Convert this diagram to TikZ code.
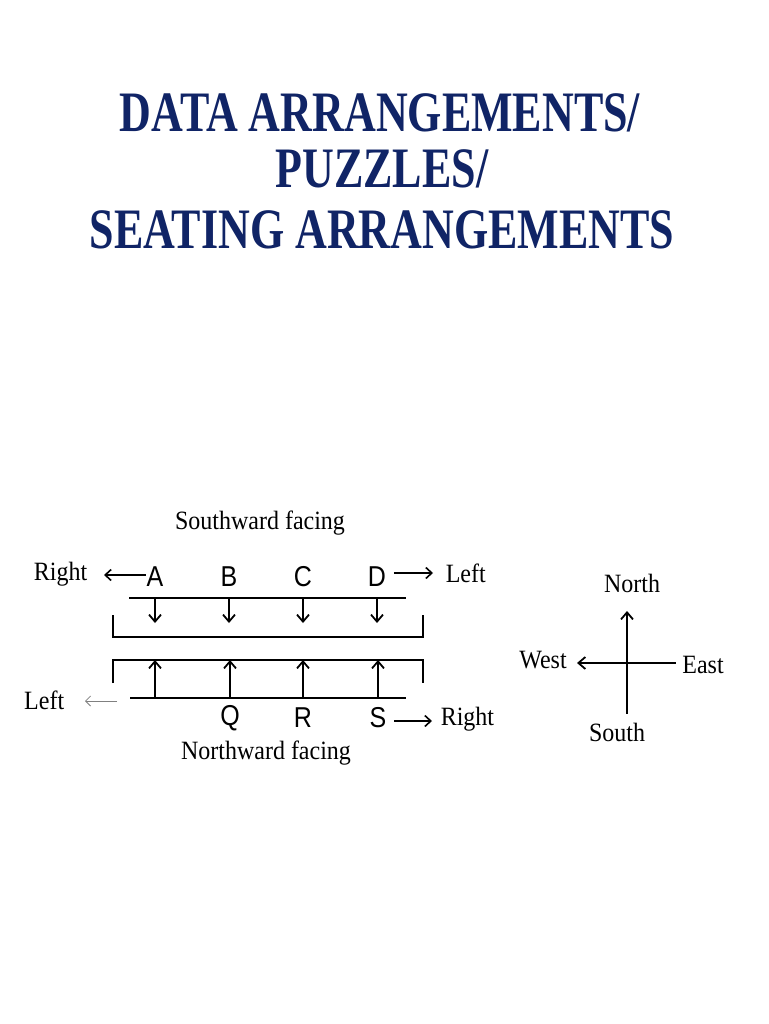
\documentclass[tikz,border=0pt]{standalone}
\usepackage{fontspec}
\setmainfont{Liberation Serif}
\newfontfamily\seatfont{Liberation Sans}
\usetikzlibrary{arrows.meta,positioning}
\definecolor{titleblue}{RGB}{16,36,102}

\begin{document}
\begin{tikzpicture}[x=1pt,y=-1pt,line width=1.6pt,
  word/.style={font=\fontsize{24}{28}\selectfont},
  seat/.style={font=\seatfont\fontsize{25}{30}\selectfont},
  heading/.style={anchor=base,text=titleblue,font=\fontsize{44}{50}\selectfont\bfseries},
  face/.style={-{Straight Barb[length=7pt,width=12pt,line width=1.8pt]}},
  side/.style={-{Straight Barb[length=6pt,width=11pt,line width=1.6pt]},line width=1.4pt}]
\tikzstyle{every node}+=[inner sep=0pt]
\useasboundingbox (0,0) rectangle (768,1024);
\fill [white] (0,0) rectangle (768,1024);
\node [heading] (t1) at (380,132) {\scalebox{1}[1.3]{DATA ARRANGEMENTS/}};
\node [heading] (t2) at (382,188) {\scalebox{1}[1.3]{PUZZLES/}};
\node [heading] (t3) at (382,248) {\scalebox{1}[1.3]{SEATING ARRANGEMENTS}};
\node [word] (sfacing) at (260,523) {\scalebox{1}[1.1]{Southward facing}};
\node [seat] (A) at (155,577) {\scalebox{1}[1.15]{A}};
\node [seat] (B) at (229,577) {\scalebox{1}[1.15]{B}};
\node [seat] (C) at (303,577) {\scalebox{1}[1.15]{C}};
\node [seat] (D) at (377,577) {\scalebox{1}[1.15]{D}};
\node [word,anchor=east] (rtop) at (88,574) {\scalebox{1}[1.1]{Right}};
\node [word,anchor=west] (ltop) at (445,573) {\scalebox{1}[1.1]{Left}};
\draw [side,shorten >=16pt] (A.west |- 0,575) -- (rtop.east |- 0,575);
\draw [side,shorten <=7pt,shorten >=12pt] (D.east |- 0,573) -- (ltop.west |- 0,573);
\coordinate (tl) at (129,598);
\coordinate (tr) at (406,598);
\draw (tl) -- (tr);
\foreach \s in {A,B,C,D}
  \draw [face] (\s |- tl) -- ++(0,25);
\draw (113,615) |- (423,637) -- (423,615);
\draw (113,683) |- (423,660) -- (423,683);
\coordinate (bl) at (130,698);
\coordinate (br) at (406,698);
\draw (bl) -- (br);
\coordinate (P) at (155,718);
\node [seat] (Q) at (230,718) {\scalebox{1}[1.15]{Q}};
\node [seat] (R) at (303,718) {\scalebox{1}[1.15]{R}};
\node [seat] (S) at (378,718) {\scalebox{1}[1.15]{S}};
\foreach \s in {P,Q,R,S}
  \draw [face] (\s |- bl) -- ++(0,-38);
\node [word,anchor=east] (lbot) at (65,700) {\scalebox{1}[1.1]{Left}};
\coordinate (lstart) at (117,701);
\draw [-{Straight Barb[length=5pt,width=10pt]},gray,line width=0.8pt,shorten >=20pt] (lstart) -- (lbot.east |- lstart);
\node [word,anchor=west] (rbot) at (440,719) {\scalebox{1}[1.1]{Right}};
\draw [side,shorten <=7pt,shorten >=8pt] (S.east |- 0,721) -- (rbot.west |- 0,721);
\node [word] (nfacing) at (266,753) {\scalebox{1}[1.1]{Northward facing}};
\coordinate (n) at (627,611);
\coordinate (s) at (627,714);
\coordinate (w) at (577,663);
\coordinate (e) at (676,663);
\draw [face,{Straight Barb[length=7pt,width=12pt,line width=1.8pt]}-] (n) -- (s);
\draw [face,{Straight Barb[length=7pt,width=12pt,line width=1.8pt]}-] (w) -- (e);
\node [word] (north) at (632,583) {\scalebox{1}[1.1]{North}};
\node [word] (south) at (617,732) {\scalebox{1}[1.1]{South}};
\node [word] (west) at (543,660) {\scalebox{1}[1.1]{West}};
\node [word] (east) at (703,665) {\scalebox{1}[1.1]{East}};
\end{tikzpicture}
\end{document}
